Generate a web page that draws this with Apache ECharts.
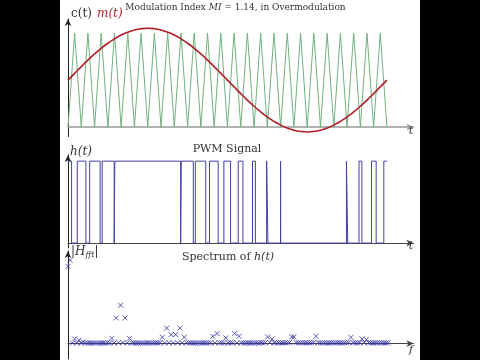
<!DOCTYPE html>
<html>
<head>
<meta charset="utf-8">
<script src="https://cdn.jsdelivr.net/npm/echarts@6/dist/echarts.min.js"></script>
<style>
html,body{margin:0;padding:0;background:#000;}
#c{width:480px;height:360px;}
</style>
</head>
<body>
<div id="c"></div>
<script>
// ---- data ----
// sample times (in carrier periods) at carrier vertices
var halfTimes = [0,0.5,1,1.5,2,2.5,3,3.5,4,4.5,5,5.5,6,6.5,7,7.5,8,8.5,9,9.5,10,10.5,11,11.5,12,12.5,13,13.5,14,14.5,15,15.5,16,16.5,17,17.5,18,18.5,19,19.5,20,20.5,21,21.5,22,22.5,23,23.5,24];
// carrier c(t): triangle vertices
var carrierVals = [0,1,0,1,0,1,0,1,0,1,0,1,0,1,0,1,0,1,0,1,0,1,0,1,0,1,0,1,0,1,0,1,0,1,0,1,0,1,0,1,0,1,0,1,0,1,0,1,0];
// modulating signal m(t) read at the same times
var mVals = [0.5,0.572,0.644,0.713,0.778,0.838,0.892,0.939,0.979,1.010,1.033,1.047,1.052,1.047,1.033,1.010,0.979,0.939,0.892,0.838,0.778,0.713,0.644,0.572,0.5,
             0.428,0.356,0.287,0.222,0.162,0.108,0.061,0.021,-0.010,-0.033,-0.047,-0.052,-0.047,-0.033,-0.010,0.021,0.061,0.108,0.162,0.222,0.287,0.356,0.428,0.5];
// PWM h(t): starts high, toggles at each switching time
var pwmStart = 1;
var pwmSwitch = [0.270,0.698,1.349,1.632,2.419,2.572,3.475,3.523,8.477,8.525,9.428,9.581,10.368,10.651,11.302,11.730,
                 12.233,12.810,13.164,13.885,14.101,14.949,15.046,15.996,16.003,20.954,21.051,21.899,22.115,22.836,23.190,23.767];
var pwmEnd = 24;
// spectrum |H_fft| per frequency bin (index = bin)
var spectrum = [
 0.50,0.54,0.004,0.030,0.003,0.022,0.003,0.010,0.004,0.003,
 0.004,0.003,0.005,0.003,0.004,0.003,0.004,0.003,0.006,0.004,
 0.034,0.004,0.166,0.006,0.248,0.006,0.166,0.004,0.034,0.004,
 0.005,0.003,0.004,0.003,0.004,0.003,0.005,0.003,0.004,0.004,
 0.005,0.004,0.006,0.041,0.004,0.100,0.005,0.058,0.004,0.058,
 0.005,0.100,0.004,0.041,0.006,0.004,0.005,0.003,0.004,0.003,
 0.004,0.003,0.005,0.004,0.006,0.005,0.047,0.004,0.065,0.005,
 0.006,0.004,0.037,0.004,0.006,0.005,0.065,0.004,0.047,0.005,
 0.004,0.003,0.005,0.004,0.003,0.004,0.005,0.003,0.006,0.005,
 0.007,0.043,0.006,0.030,0.005,0.004,0.006,0.005,0.004,0.006,
 0.005,0.007,0.043,0.043,0.006,0.005,0.004,0.006,0.005,0.004,
 0.006,0.005,0.007,0.047,0.006,0.005,0.004,0.006,0.005,0.004,
 0.006,0.005,0.004,0.006,0.005,0.004,0.006,0.005,0.007,0.040,
 0.006,0.005,0.004,0.006,0.030,0.005,0.026,0.006,0.005,0.004,
 0.006,0.005,0.004,0.006,0.005,0.004,0.006
];

// ---- build series data ----
var carrierData = halfTimes.map(function(t,i){return [t, carrierVals[i]];});
var mData = halfTimes.map(function(t,i){return [t, mVals[i]];});
var pwmData = [[0, pwmStart]];
var lvl = pwmStart;
pwmSwitch.forEach(function(s){ pwmData.push([s,lvl]); lvl = 1-lvl; pwmData.push([s,lvl]); });
pwmData.push([pwmEnd, lvl]);
var specData = spectrum.map(function(v,k){return [k, v];});

var L = 68, W = 345.5;
function xAx(g, max, color, w){
  return {gridIndex:g, type:'value', min:0, max:max,
    axisLine:{show:true, onZero:true, lineStyle:{color:color, width:w}, symbol:['none','arrow'], symbolSize:[5,7]},
    axisTick:{show:false}, axisLabel:{show:false}, splitLine:{show:false}};
}
function yAx(g, min, max){
  return {gridIndex:g, type:'value', min:min, max:max,
    axisLine:{show:true, onZero:false, lineStyle:{color:'#222', width:1}, symbol:['none','arrow'], symbolSize:[5,7]},
    axisTick:{show:false}, axisLabel:{show:false}, splitLine:{show:false}};
}
var serif = '"DejaVu Serif", serif';
function txt(x,y,text,size,color,align,rich,italic){
  return {type:'text', x:x, y:y, z:100, style:{text:text, fontFamily:serif, fontSize:size, fontStyle: italic?'italic':'normal',
    fill:color, align:align||'left', verticalAlign:'middle', rich:rich||{}}};
}
var chart = echarts.init(document.getElementById('c'));
chart.setOption({
  backgroundColor:'#000',
  animation:false,
  graphic:[
    {type:'rect', shape:{x:60,y:0,width:360,height:360}, style:{fill:'#fff'}, z:-10},
    txt(235.5,8,'Modulation Index {i|MI} = 1.14, in Overmodulation',9,'#333','center',{i:{fontStyle:'italic',fontFamily:serif,fontSize:9,fill:'#333'}}),
    txt(71,13.5,'c(t)',12,'#333','left'),
    txt(97,13.5,'m(t)',12,'#b01e28','left',null,true),
    txt(70,152,'h(t)',12,'#333','left',null,true),
    txt(227,149,'PWM Signal',11,'#333','center'),
    txt(228,257,'Spectrum of {i|h(t)}',11,'#333','center',{i:{fontStyle:'italic',fontFamily:serif,fontSize:11,fill:'#333'}}),
    txt(71,252,'|{H|H}{s|fft}|',12,'#333','left',{H:{fontStyle:'italic',fontFamily:serif,fontSize:12,fill:'#333'},s:{fontStyle:'italic',fontFamily:serif,fontSize:8,fill:'#333',padding:[6,0,0,0]}}),
    txt(411,131,'t',11,'#333','center',null,true),
    txt(411,246,'t',11,'#333','center',null,true),
    txt(411,350,'f',11,'#333','center',null,true)
  ],
  grid:[
    {left:L, width:W, top:19, height:117.5},
    {left:L, width:W, top:155, height:93},
    {left:L, width:W, top:251, height:108}
  ],
  xAxis:[xAx(0,26,'#999',1.5), xAx(1,26,'#444',1), xAx(2,157.5,'#444',1)],
  yAxis:[yAx(0,-0.1,1.15), yAx(1,-0.06,1.075), yAx(2,-0.1,0.6)],
  series:[
    {type:'line', xAxisIndex:0, yAxisIndex:0, data:carrierData, showSymbol:false, lineStyle:{color:'#72b07e', width:1}},
    {type:'line', xAxisIndex:0, yAxisIndex:0, data:mData, smooth:true, showSymbol:false, lineStyle:{color:'#b01e28', width:1.6}},
    {type:'line', xAxisIndex:1, yAxisIndex:1, data:pwmData, showSymbol:false, lineStyle:{color:'#4141a8', width:1}},
    {type:'scatter', xAxisIndex:2, yAxisIndex:2, data:specData, symbol:'path://M0 0L10 10M10 0L0 10', symbolSize:5,
     itemStyle:{color:'transparent', borderColor:'#3333aa', borderWidth:1}}
  ]
});
</script>
</body>
</html>
